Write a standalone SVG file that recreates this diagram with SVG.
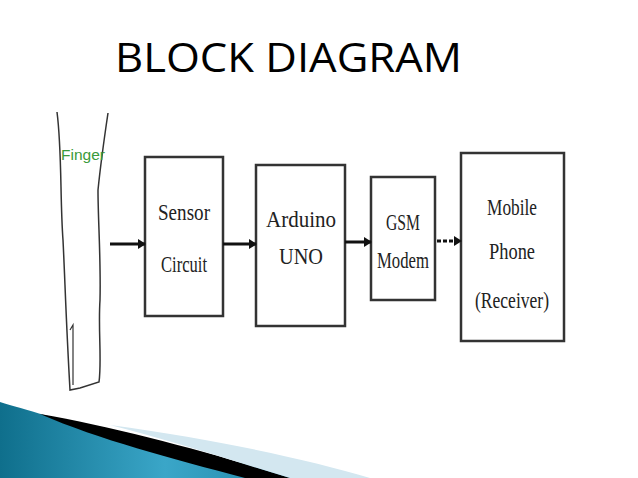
<svg xmlns="http://www.w3.org/2000/svg" width="638" height="478" viewBox="0 0 638 478">
<defs>
<linearGradient id="teal" x1="0" y1="0" x2="1" y2="0">
<stop offset="0" stop-color="#0f6f8c"/><stop offset="0.5" stop-color="#3aa6c8"/><stop offset="1" stop-color="#1a7f9e"/>
</linearGradient>
<marker id="ah" markerWidth="8" markerHeight="10" refX="7" refY="5" orient="auto" markerUnits="userSpaceOnUse">
<path d="M0,0 L8,5 L0,10 Z" fill="#111"/>
</marker>
<style>
.box{fill:#fff;stroke:#333;stroke-width:2.5}
.lbl{font-family:"Liberation Serif",serif;font-size:23px;fill:#222;text-anchor:middle}
.con{stroke:#111;stroke-width:3;fill:none;marker-end:url(#ah)}
</style>
</defs>
<rect width="638" height="478" fill="#fff"/>
<text x="115" y="72" font-family="Open Sans, Liberation Sans, sans-serif" font-size="40" textLength="347" lengthAdjust="spacingAndGlyphs" fill="#000">BLOCK DIAGRAM</text>
<g id="finger">
<path d="M57,112 C62,150 60,200 63,240 C65,280 66,320 70,390 L80,388 L99,382 C102,360 98,330 100,300 C101,260 98,220 98,190 C100,170 104,140 108,113" fill="none" stroke="#333" stroke-width="1.5"/>
<path d="M70,330 L73,325 L73,385" fill="none" stroke="#333" stroke-width="1.2"/>
<text x="83" y="160" font-family="Liberation Sans, sans-serif" font-size="14" fill="#3a9a3a" text-anchor="middle" textLength="44" lengthAdjust="spacingAndGlyphs">Finger</text>
</g>
<g id="sensor"><rect class="box" x="145" y="157" width="78" height="159"/><text class="lbl" x="184" y="220" textLength="52" lengthAdjust="spacingAndGlyphs">Sensor</text><text class="lbl" x="184" y="272" textLength="46" lengthAdjust="spacingAndGlyphs">Circuit</text></g>
<g id="arduino"><rect class="box" x="256" y="165" width="89" height="161" stroke="#111" stroke-width="3"/><text class="lbl" x="301" y="227" textLength="70" lengthAdjust="spacingAndGlyphs">Arduino</text><text class="lbl" x="301" y="264" textLength="44" lengthAdjust="spacingAndGlyphs">UNO</text></g>
<g id="gsm"><rect class="box" x="371" y="177" width="64" height="123"/><text class="lbl" x="403" y="230" textLength="34" lengthAdjust="spacingAndGlyphs">GSM</text><text class="lbl" x="403" y="268" textLength="52" lengthAdjust="spacingAndGlyphs">Modem</text></g>
<g id="mobile"><rect class="box" x="461" y="153" width="103" height="188"/><text class="lbl" x="512" y="215" textLength="50" lengthAdjust="spacingAndGlyphs">Mobile</text><text class="lbl" x="512" y="259" textLength="46" lengthAdjust="spacingAndGlyphs">Phone</text><text class="lbl" x="512" y="308" textLength="74" lengthAdjust="spacingAndGlyphs">(Receiver)</text></g>
<g id="connectors">
<line class="con" x1="110" y1="244" x2="145" y2="244"/>
<line class="con" x1="223" y1="244" x2="256" y2="244"/>
<line class="con" x1="345" y1="242" x2="371" y2="242"/>
<line class="con" x1="437" y1="241" x2="461" y2="241" stroke-dasharray="4,2"/>
</g>
<g id="swoosh">
<path d="M0,402 C60,420 200,460 330,478 L0,478 Z" fill="url(#teal)"/>
<path d="M40,414 C120,428 220,455 290,478 L245,478 C170,458 100,440 40,414 Z" fill="#000"/>
<path d="M110,425 C220,440 310,460 370,478 L290,478 C230,460 170,440 110,425 Z" fill="#d3e7f0"/>
</g>
</svg>
